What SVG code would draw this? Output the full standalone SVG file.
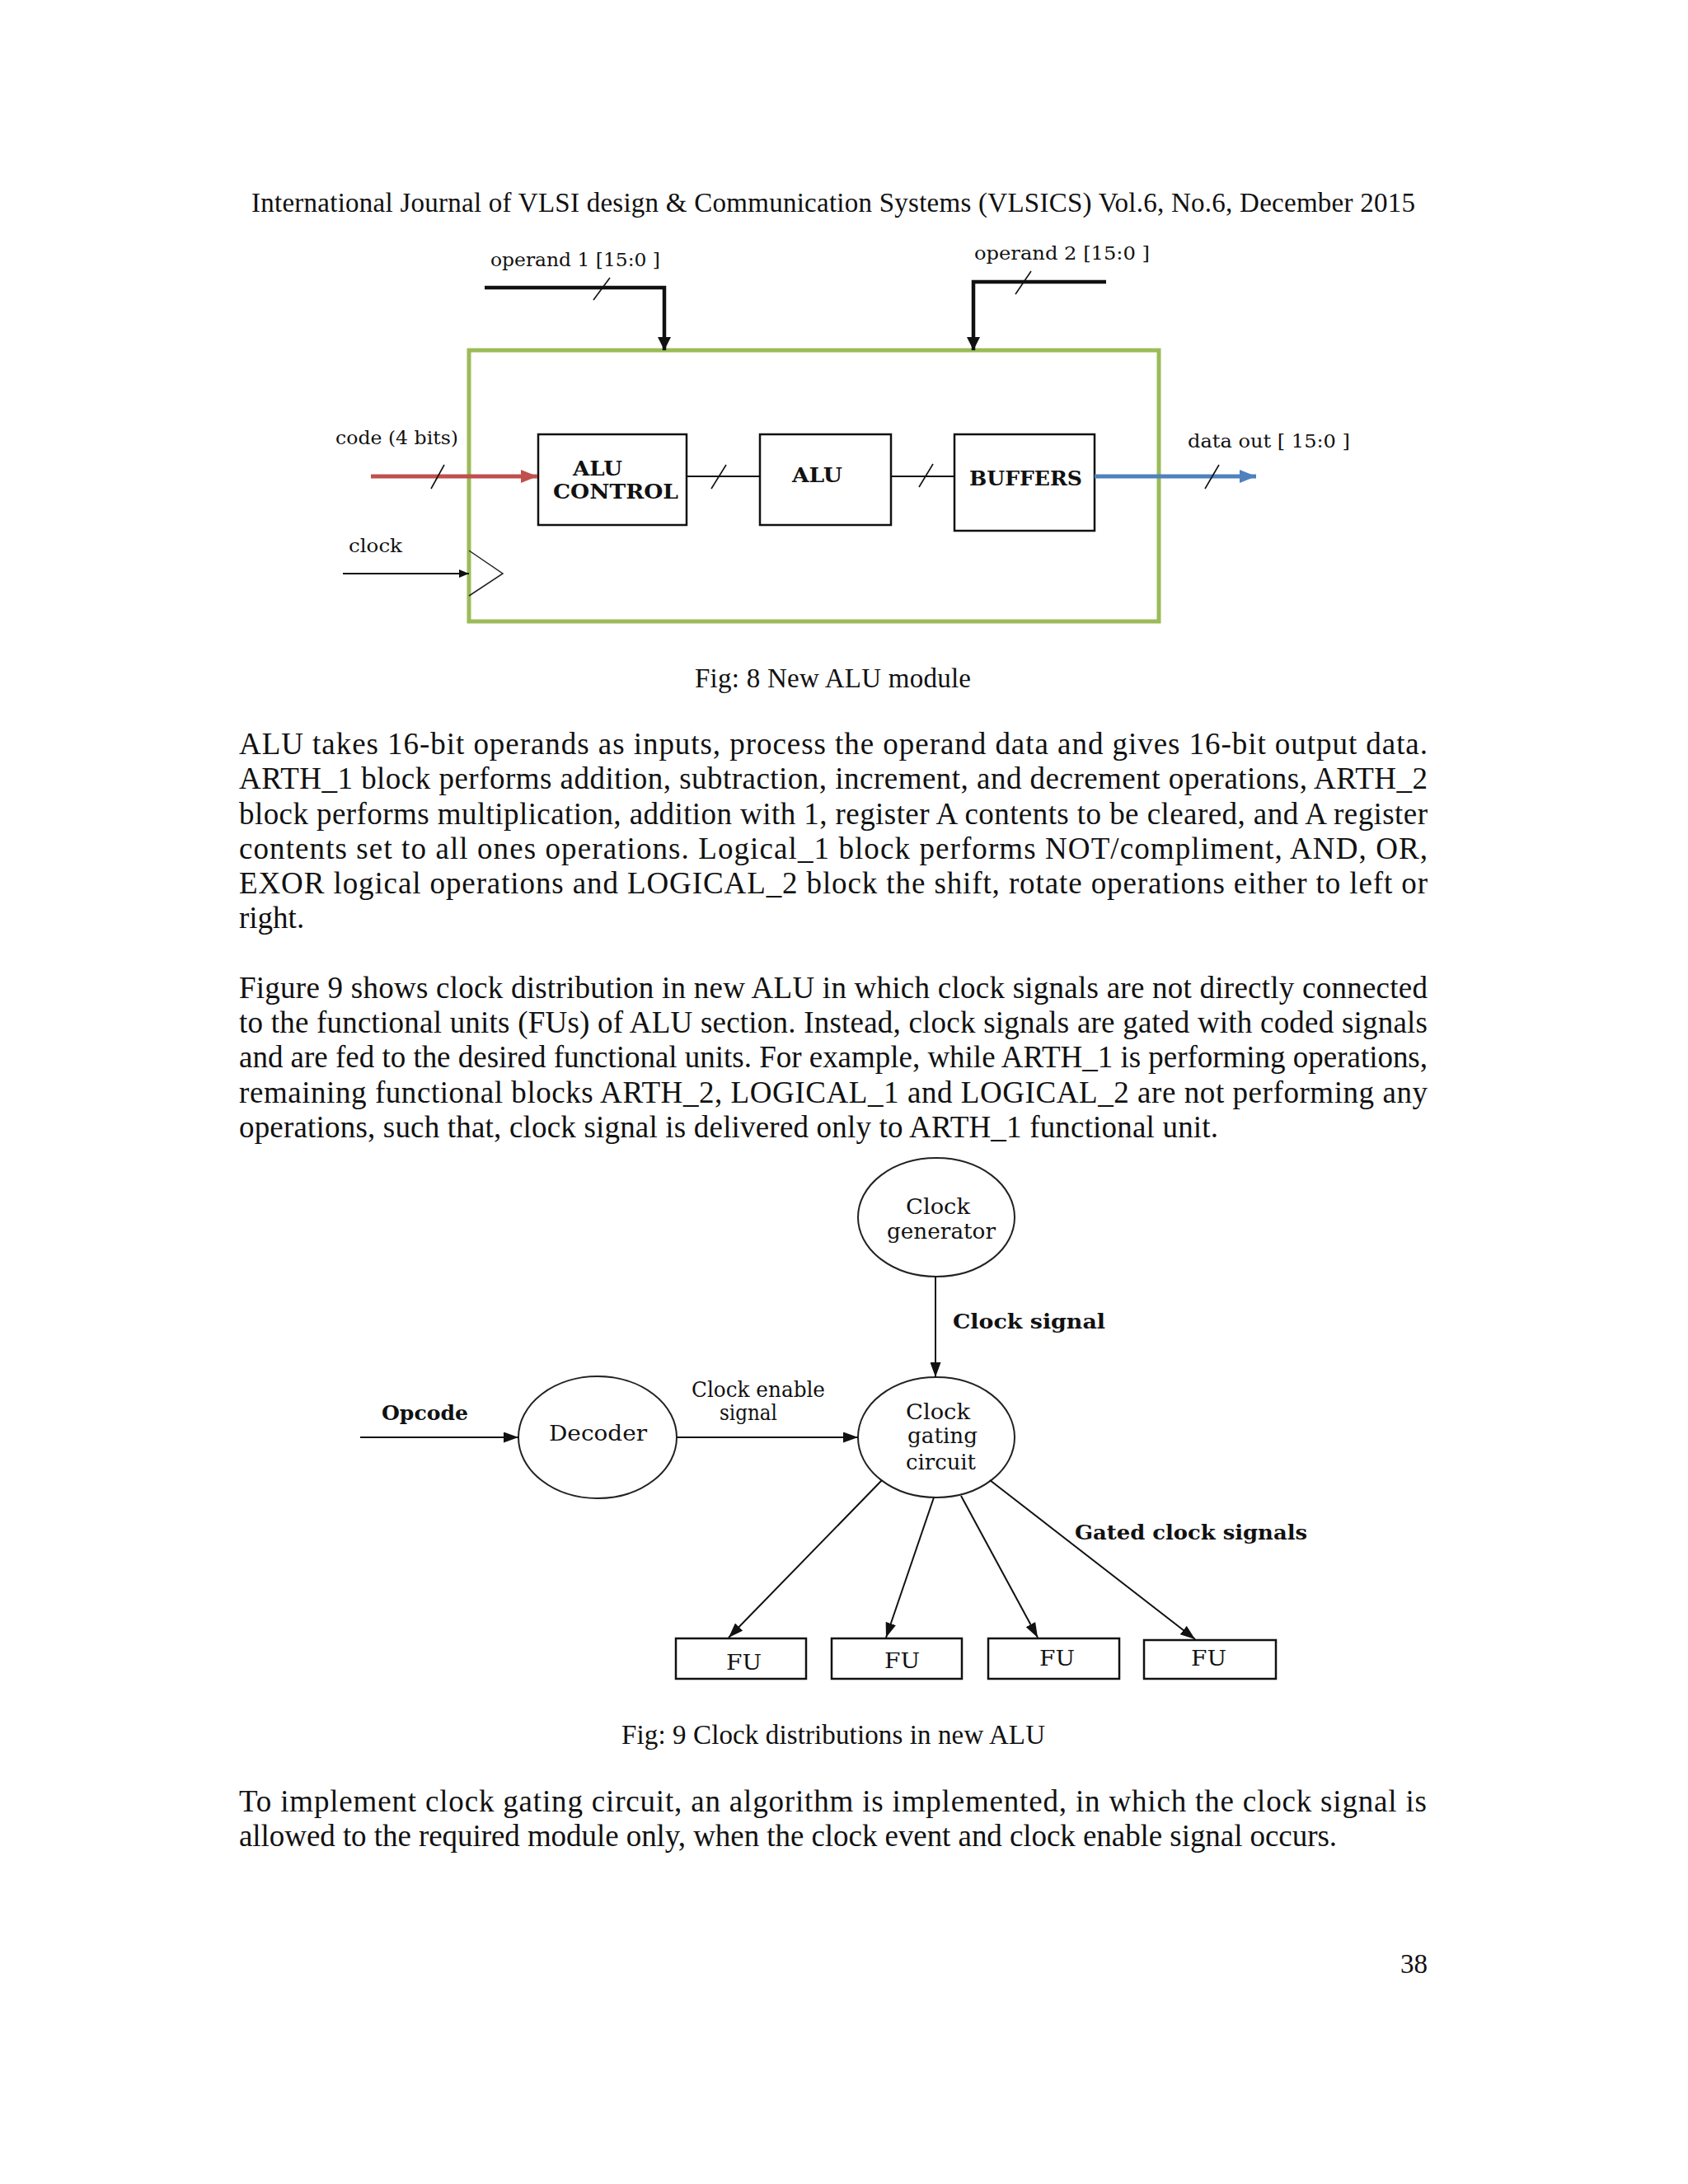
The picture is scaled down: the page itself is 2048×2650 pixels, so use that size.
<svg xmlns="http://www.w3.org/2000/svg" width="2048" height="2650" viewBox="0 0 2048 2650">
<defs>
<style>
.body{font-family:"Liberation Serif","Times New Roman",serif;font-size:37px;fill:#111}
.hdr{font-family:"Liberation Serif","Times New Roman",serif;font-size:33px;fill:#111}
.lbl{font-family:"DejaVu Serif",serif;font-size:23px;fill:#111}
.lblb{font-family:"DejaVu Serif",serif;font-size:24px;font-weight:bold;fill:#111}
.f9{font-family:"DejaVu Serif",serif;font-size:26px;fill:#111}
.box{fill:#fff;stroke:#111;stroke-width:2.5}
.ell{fill:#fff;stroke:#222;stroke-width:2}
.thin{stroke:#111;stroke-width:2;fill:none}
.slash{stroke:#111;stroke-width:1.6;fill:none}
.thick{stroke:#111;stroke-width:4.5;fill:none}
</style>
<marker id="ah" markerUnits="userSpaceOnUse" markerWidth="18" markerHeight="13" refX="18" refY="6.5" orient="auto" viewBox="0 0 18 13"><path d="M0,0L18,6.5L0,13z" fill="#111"/></marker>
<marker id="ahBig" markerUnits="userSpaceOnUse" markerWidth="16" markerHeight="16" refX="16" refY="8" orient="auto" viewBox="0 0 16 16"><path d="M0,0L16,8L0,16z" fill="#111"/></marker>
<marker id="ahSmall" markerUnits="userSpaceOnUse" markerWidth="12" markerHeight="10" refX="12" refY="5" orient="auto" viewBox="0 0 12 10"><path d="M0,0L12,5L0,10z" fill="#111"/></marker>
<marker id="ahRed" markerUnits="userSpaceOnUse" markerWidth="20" markerHeight="16" refX="20" refY="8" orient="auto" viewBox="0 0 20 16"><path d="M0,0L20,8L0,16z" fill="#c0504d"/></marker>
<marker id="ahBlue" markerUnits="userSpaceOnUse" markerWidth="20" markerHeight="16" refX="20" refY="8" orient="auto" viewBox="0 0 20 16"><path d="M0,0L20,8L0,16z" fill="#4f81bd"/></marker>
</defs>
<rect width="2048" height="2650" fill="#fff"/>

<g id="page-text">
<text class="hdr" x="305" y="257" textLength="1412" lengthAdjust="spacing">International Journal of VLSI design &amp; Communication Systems (VLSICS) Vol.6, No.6, December 2015</text>
<text class="hdr" x="843" y="834" textLength="335" lengthAdjust="spacing">Fig: 8 New ALU module</text>
<text class="body" x="290" y="915" textLength="1442" lengthAdjust="spacing">ALU takes 16-bit operands as inputs, process the operand data and gives 16-bit output data.</text>
<text class="body" x="290" y="957" textLength="1442" lengthAdjust="spacing">ARTH_1 block performs addition, subtraction, increment, and decrement operations, ARTH_2</text>
<text class="body" x="290" y="1000" textLength="1442" lengthAdjust="spacing">block performs multiplication, addition with  1, register A contents to be cleared, and  A register</text>
<text class="body" x="290" y="1042" textLength="1442" lengthAdjust="spacing">contents set to all ones operations. Logical_1 block performs NOT/compliment, AND, OR,</text>
<text class="body" x="290" y="1084" textLength="1442" lengthAdjust="spacing">EXOR logical operations and LOGICAL_2 block the shift, rotate operations either to left or</text>
<text class="body" x="290" y="1126">right.</text>
<text class="body" x="290" y="1211" textLength="1442" lengthAdjust="spacing">Figure 9 shows clock distribution in new ALU in which clock signals are not directly connected</text>
<text class="body" x="290" y="1253" textLength="1442" lengthAdjust="spacing">to the functional units (FUs) of ALU section. Instead, clock signals are gated with coded signals</text>
<text class="body" x="290" y="1295" textLength="1442" lengthAdjust="spacing">and are fed to the desired functional units. For example, while ARTH_1 is performing operations,</text>
<text class="body" x="290" y="1338" textLength="1442" lengthAdjust="spacing">remaining functional blocks ARTH_2, LOGICAL_1 and LOGICAL_2 are not performing any</text>
<text class="body" x="290" y="1380" textLength="1188" lengthAdjust="spacing">operations, such that, clock signal is delivered  only to ARTH_1  functional unit.</text>
<text class="hdr" x="754" y="2116" textLength="514" lengthAdjust="spacing">Fig: 9 Clock distributions in new ALU</text>
<text class="body" x="290" y="2198" textLength="1441" lengthAdjust="spacing">To implement clock gating circuit, an algorithm is implemented, in which the clock signal is</text>
<text class="body" x="290" y="2240" textLength="1332" lengthAdjust="spacing">allowed to the required module only, when the clock event and clock enable signal occurs.</text>
<text class="hdr" x="1699" y="2394" font-size="34">38</text>
</g>

<!-- Figure 8 -->
<g id="alu-module">
<rect x="569" y="425" width="837" height="329" fill="none" stroke="#9bbb59" stroke-width="5"/>
<polyline points="569,668 610,696 569,723" fill="none" stroke="#222" stroke-width="1.5"/>
</g>
<g id="alu-control">
<rect class="box" x="653" y="527" width="180" height="110"/>
<text class="lblb" x="695" y="577" textLength="60" lengthAdjust="spacingAndGlyphs" font-size="22">ALU</text>
<text class="lblb" x="671" y="605" textLength="152" lengthAdjust="spacingAndGlyphs" font-size="22">CONTROL</text>
</g>
<g id="alu">
<rect class="box" x="922" y="527" width="159" height="110"/>
<text class="lblb" x="961" y="585" textLength="61" lengthAdjust="spacingAndGlyphs" font-size="22">ALU</text>
</g>
<g id="buffers">
<rect class="box" x="1158" y="527" width="170" height="117"/>
<text class="lblb" x="1176" y="589" textLength="137" lengthAdjust="spacingAndGlyphs" font-size="22">BUFFERS</text>
</g>
<g id="fig8-labels">
<text class="lbl" x="595" y="323" textLength="206" lengthAdjust="spacingAndGlyphs">operand 1 [15:0 ]</text>
<text class="lbl" x="1182" y="315" textLength="213" lengthAdjust="spacingAndGlyphs">operand 2  [15:0 ]</text>
<text class="lbl" x="407" y="539" textLength="149" lengthAdjust="spacingAndGlyphs">code (4 bits)</text>
<text class="lbl" x="1441" y="543" textLength="197" lengthAdjust="spacingAndGlyphs">data  out [ 15:0 ]</text>
<text class="lbl" x="423" y="670" textLength="65" lengthAdjust="spacingAndGlyphs">clock</text>
</g>

<!-- Figure 9 -->
<g id="clock-generator">
<ellipse class="ell" cx="1136" cy="1477" rx="95" ry="72"/>
<text class="f9" x="1099" y="1473" textLength="78" lengthAdjust="spacingAndGlyphs">Clock</text>
<text class="f9" x="1076" y="1503" textLength="132" lengthAdjust="spacingAndGlyphs">generator</text>
</g>
<g id="clock-gating">
<ellipse class="ell" cx="1136" cy="1744" rx="95" ry="73"/>
<text class="f9" x="1099" y="1722" textLength="78" lengthAdjust="spacingAndGlyphs">Clock</text>
<text class="f9" x="1101" y="1751" textLength="85" lengthAdjust="spacingAndGlyphs">gating</text>
<text class="f9" x="1099" y="1783" textLength="85" lengthAdjust="spacingAndGlyphs">circuit</text>
</g>
<g id="decoder">
<ellipse class="ell" cx="725" cy="1744" rx="96" ry="74"/>
<text class="f9" x="666" y="1748" textLength="119" lengthAdjust="spacingAndGlyphs">Decoder</text>
</g>
<g id="fu1"><rect class="box" x="820" y="1988" width="158" height="49"/><text class="f9" x="881" y="2026" font-size="28" textLength="43" lengthAdjust="spacingAndGlyphs">FU</text></g>
<g id="fu2"><rect class="box" x="1009" y="1988" width="158" height="49"/><text class="f9" x="1073" y="2024" font-size="28" textLength="43" lengthAdjust="spacingAndGlyphs">FU</text></g>
<g id="fu3"><rect class="box" x="1199" y="1988" width="159" height="49"/><text class="f9" x="1261" y="2021" font-size="28" textLength="43" lengthAdjust="spacingAndGlyphs">FU</text></g>
<g id="fu4"><rect class="box" x="1388" y="1990" width="160" height="47"/><text class="f9" x="1445" y="2021" font-size="28" textLength="43" lengthAdjust="spacingAndGlyphs">FU</text></g>
<g id="fig9-labels">
<text class="lblb" x="1156" y="1612" font-size="26" textLength="185" lengthAdjust="spacingAndGlyphs">Clock signal</text>
<text class="lblb" x="463" y="1723" font-size="26" textLength="105" lengthAdjust="spacingAndGlyphs">Opcode</text>
<text class="f9" x="839" y="1695" font-size="25" textLength="162" lengthAdjust="spacingAndGlyphs">Clock enable</text>
<text class="f9" x="873" y="1723" font-size="25" textLength="70" lengthAdjust="spacingAndGlyphs">signal</text>
<text class="lblb" x="1304" y="1868" font-size="26" textLength="282" lengthAdjust="spacingAndGlyphs">Gated clock signals</text>
</g>

<g id="connectors">
<!-- fig 8 -->
<polyline class="thick" points="588,349 806,349 806,425" marker-end="url(#ahBig)"/>
<polyline class="thick" points="1342,342 1181,342 1181,425" marker-end="url(#ahBig)"/>
<line class="slash" x1="740" y1="337" x2="720" y2="364"/>
<line class="slash" x1="1251" y1="329" x2="1232" y2="357"/>
<line x1="450" y1="578" x2="652" y2="578" stroke="#c0504d" stroke-width="5" marker-end="url(#ahRed)"/>
<line class="slash" x1="539" y1="564" x2="523" y2="593"/>
<line class="thin" x1="833" y1="578" x2="922" y2="578"/>
<line class="slash" x1="881" y1="564" x2="863" y2="593"/>
<line class="thin" x1="1081" y1="578" x2="1158" y2="578"/>
<line class="slash" x1="1132" y1="563" x2="1115" y2="591"/>
<line x1="1328" y1="578" x2="1524" y2="578" stroke="#4f81bd" stroke-width="5" marker-end="url(#ahBlue)"/>
<line class="slash" x1="1479" y1="564" x2="1462" y2="593"/>
<line class="thin" x1="416" y1="696" x2="569" y2="696" marker-end="url(#ahSmall)"/>
<!-- fig 9 -->
<line class="thin" x1="1135" y1="1549" x2="1135" y2="1671" marker-end="url(#ah)"/>
<line class="thin" x1="437" y1="1744" x2="629" y2="1744" marker-end="url(#ah)"/>
<line class="thin" x1="821" y1="1744" x2="1041" y2="1744" marker-end="url(#ah)"/>
<line class="thin" x1="1070" y1="1796" x2="884" y2="1987" marker-end="url(#ah)"/>
<line class="thin" x1="1133" y1="1817" x2="1075" y2="1987" marker-end="url(#ah)"/>
<line class="thin" x1="1166" y1="1815" x2="1259" y2="1987" marker-end="url(#ah)"/>
<line class="thin" x1="1201" y1="1796" x2="1450" y2="1989" marker-end="url(#ah)"/>
</g>
</svg>
